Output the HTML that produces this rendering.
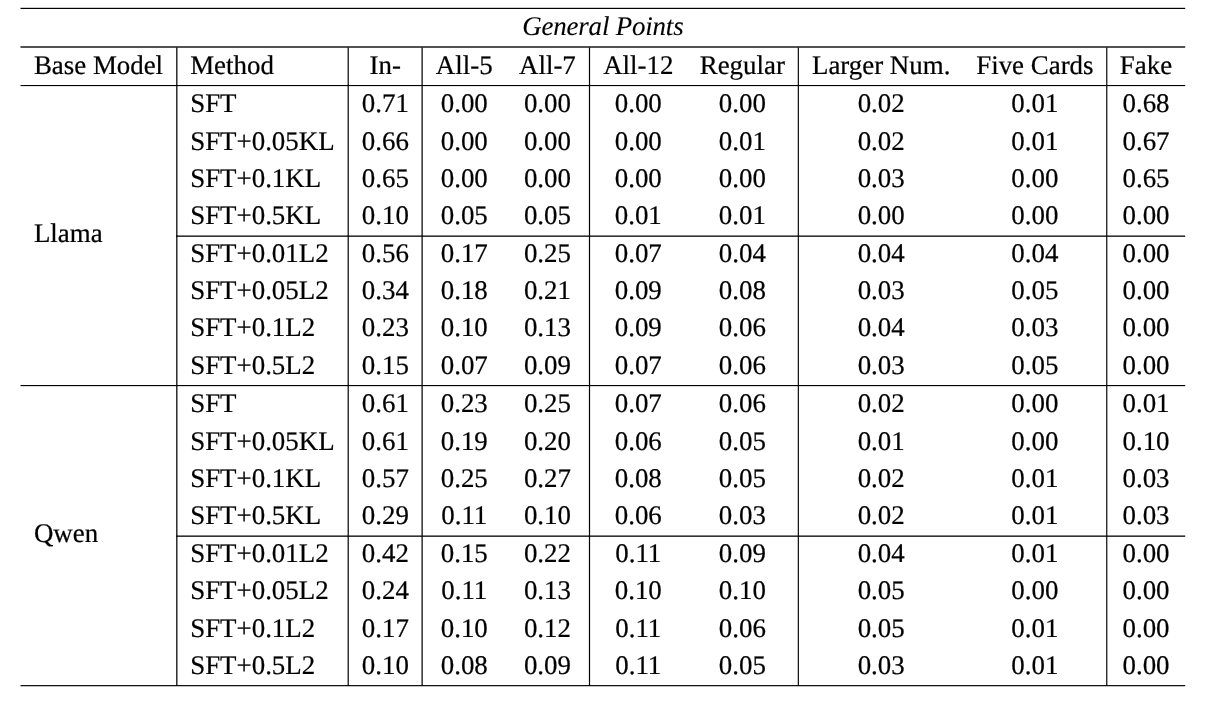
<!DOCTYPE html>
<html lang="en">
<head>
<meta charset="utf-8">
<title>General Points</title>
<style>
html,body{margin:0;padding:0;background:#fff;}
body{width:1209px;height:711px;position:relative;overflow:hidden;font-family:"Liberation Serif","Times New Roman",Times,serif;font-size:26.9px;color:#000;}
#rules{position:absolute;left:0;top:0;}
.t{position:absolute;white-space:nowrap;line-height:40px;height:40px;margin:0;padding:0;-webkit-text-stroke:0.22px #000;text-rendering:geometricPrecision;}
.c{text-align:center;width:200px;margin-left:-100px;}
.i{font-style:italic;letter-spacing:-0.17px;-webkit-text-stroke-width:0.1px;}
</style>
</head>
<body>
<svg id="rules" width="1209" height="711" viewBox="0 0 1209 711">
<g fill="#000">
<rect x="20.5" y="7" width="1164.7" height="1" fill-opacity="0.2"/>
<rect x="20.5" y="8" width="1164.7" height="1" fill-opacity="1.0"/>
<rect x="20.5" y="46" width="1164.7" height="1" fill-opacity="0.68"/>
<rect x="20.5" y="47" width="1164.7" height="1" fill-opacity="0.68"/>
<rect x="20.5" y="85" width="1164.7" height="1" fill-opacity="1.0"/>
<rect x="20.5" y="86" width="1164.7" height="1" fill-opacity="0.1"/>
<rect x="176" y="235" width="1009.2" height="1" fill-opacity="0.5"/>
<rect x="176" y="236" width="1009.2" height="1" fill-opacity="0.8"/>
<rect x="20.5" y="385" width="1164.7" height="1" fill-opacity="1.0"/>
<rect x="20.5" y="386" width="1164.7" height="1" fill-opacity="0.15"/>
<rect x="176" y="535" width="1009.2" height="1" fill-opacity="0.5"/>
<rect x="176" y="536" width="1009.2" height="1" fill-opacity="0.8"/>
<rect x="20.5" y="685" width="1164.7" height="1" fill-opacity="0.93"/>
<rect x="20.5" y="686" width="1164.7" height="1" fill-opacity="0.25"/>
<rect x="176" y="47.5" width="1" height="638.5" fill-opacity="0.8"/>
<rect x="177" y="47.5" width="1" height="638.5" fill-opacity="0.45"/>
<rect x="347" y="47.5" width="1" height="638.5" fill-opacity="0.4"/>
<rect x="348" y="47.5" width="1" height="638.5" fill-opacity="0.8"/>
<rect x="421" y="47.5" width="1" height="638.5" fill-opacity="0.5"/>
<rect x="422" y="47.5" width="1" height="638.5" fill-opacity="0.72"/>
<rect x="588" y="47.5" width="1" height="638.5" fill-opacity="0.1"/>
<rect x="589" y="47.5" width="1" height="638.5" fill-opacity="1.0"/>
<rect x="590" y="47.5" width="1" height="638.5" fill-opacity="0.1"/>
<rect x="797" y="47.5" width="1" height="638.5" fill-opacity="0.25"/>
<rect x="798" y="47.5" width="1" height="638.5" fill-opacity="0.9"/>
<rect x="1106" y="47.5" width="1" height="638.5" fill-opacity="0.82"/>
<rect x="1107" y="47.5" width="1" height="638.5" fill-opacity="0.35"/>
</g>
</svg>
<div class="t c i" style="left:602.85px;top:6.00px">General Points</div>
<div class="t" style="left:33.90px;top:45.00px">Base Model</div>
<div class="t" style="left:190.20px;top:45.00px">Method</div>
<div class="t c" style="left:385.30px;top:45.00px">In-</div>
<div class="t c" style="left:464.25px;top:45.00px">All-5</div>
<div class="t c" style="left:547.45px;top:45.00px">All-7</div>
<div class="t c" style="left:638.27px;top:45.00px">All-12</div>
<div class="t c" style="left:742.30px;top:45.00px">Regular</div>
<div class="t c" style="left:881.20px;top:45.00px">Larger Num.</div>
<div class="t c" style="left:1034.90px;top:45.00px">Five Cards</div>
<div class="t c" style="left:1146.00px;top:45.00px">Fake</div>
<div class="t" style="left:33.90px;top:213.00px">Llama</div>
<div class="t" style="left:33.90px;top:513.00px">Qwen</div>
<div class="t" style="left:190.20px;top:83.00px">SFT</div>
<div class="t c" style="left:385.30px;top:83.00px">0.71</div>
<div class="t c" style="left:464.25px;top:83.00px">0.00</div>
<div class="t c" style="left:547.45px;top:83.00px">0.00</div>
<div class="t c" style="left:638.27px;top:83.00px">0.00</div>
<div class="t c" style="left:742.30px;top:83.00px">0.00</div>
<div class="t c" style="left:881.20px;top:83.00px">0.02</div>
<div class="t c" style="left:1034.90px;top:83.00px">0.01</div>
<div class="t c" style="left:1146.00px;top:83.00px">0.68</div>
<div class="t" style="left:190.20px;top:121.00px">SFT+0.05KL</div>
<div class="t c" style="left:385.30px;top:121.00px">0.66</div>
<div class="t c" style="left:464.25px;top:121.00px">0.00</div>
<div class="t c" style="left:547.45px;top:121.00px">0.00</div>
<div class="t c" style="left:638.27px;top:121.00px">0.00</div>
<div class="t c" style="left:742.30px;top:121.00px">0.01</div>
<div class="t c" style="left:881.20px;top:121.00px">0.02</div>
<div class="t c" style="left:1034.90px;top:121.00px">0.01</div>
<div class="t c" style="left:1146.00px;top:121.00px">0.67</div>
<div class="t" style="left:190.20px;top:158.00px">SFT+0.1KL</div>
<div class="t c" style="left:385.30px;top:158.00px">0.65</div>
<div class="t c" style="left:464.25px;top:158.00px">0.00</div>
<div class="t c" style="left:547.45px;top:158.00px">0.00</div>
<div class="t c" style="left:638.27px;top:158.00px">0.00</div>
<div class="t c" style="left:742.30px;top:158.00px">0.00</div>
<div class="t c" style="left:881.20px;top:158.00px">0.03</div>
<div class="t c" style="left:1034.90px;top:158.00px">0.00</div>
<div class="t c" style="left:1146.00px;top:158.00px">0.65</div>
<div class="t" style="left:190.20px;top:195.00px">SFT+0.5KL</div>
<div class="t c" style="left:385.30px;top:195.00px">0.10</div>
<div class="t c" style="left:464.25px;top:195.00px">0.05</div>
<div class="t c" style="left:547.45px;top:195.00px">0.05</div>
<div class="t c" style="left:638.27px;top:195.00px">0.01</div>
<div class="t c" style="left:742.30px;top:195.00px">0.01</div>
<div class="t c" style="left:881.20px;top:195.00px">0.00</div>
<div class="t c" style="left:1034.90px;top:195.00px">0.00</div>
<div class="t c" style="left:1146.00px;top:195.00px">0.00</div>
<div class="t" style="left:190.20px;top:233.00px">SFT+0.01L2</div>
<div class="t c" style="left:385.30px;top:233.00px">0.56</div>
<div class="t c" style="left:464.25px;top:233.00px">0.17</div>
<div class="t c" style="left:547.45px;top:233.00px">0.25</div>
<div class="t c" style="left:638.27px;top:233.00px">0.07</div>
<div class="t c" style="left:742.30px;top:233.00px">0.04</div>
<div class="t c" style="left:881.20px;top:233.00px">0.04</div>
<div class="t c" style="left:1034.90px;top:233.00px">0.04</div>
<div class="t c" style="left:1146.00px;top:233.00px">0.00</div>
<div class="t" style="left:190.20px;top:270.00px">SFT+0.05L2</div>
<div class="t c" style="left:385.30px;top:270.00px">0.34</div>
<div class="t c" style="left:464.25px;top:270.00px">0.18</div>
<div class="t c" style="left:547.45px;top:270.00px">0.21</div>
<div class="t c" style="left:638.27px;top:270.00px">0.09</div>
<div class="t c" style="left:742.30px;top:270.00px">0.08</div>
<div class="t c" style="left:881.20px;top:270.00px">0.03</div>
<div class="t c" style="left:1034.90px;top:270.00px">0.05</div>
<div class="t c" style="left:1146.00px;top:270.00px">0.00</div>
<div class="t" style="left:190.20px;top:307.00px">SFT+0.1L2</div>
<div class="t c" style="left:385.30px;top:307.00px">0.23</div>
<div class="t c" style="left:464.25px;top:307.00px">0.10</div>
<div class="t c" style="left:547.45px;top:307.00px">0.13</div>
<div class="t c" style="left:638.27px;top:307.00px">0.09</div>
<div class="t c" style="left:742.30px;top:307.00px">0.06</div>
<div class="t c" style="left:881.20px;top:307.00px">0.04</div>
<div class="t c" style="left:1034.90px;top:307.00px">0.03</div>
<div class="t c" style="left:1146.00px;top:307.00px">0.00</div>
<div class="t" style="left:190.20px;top:345.00px">SFT+0.5L2</div>
<div class="t c" style="left:385.30px;top:345.00px">0.15</div>
<div class="t c" style="left:464.25px;top:345.00px">0.07</div>
<div class="t c" style="left:547.45px;top:345.00px">0.09</div>
<div class="t c" style="left:638.27px;top:345.00px">0.07</div>
<div class="t c" style="left:742.30px;top:345.00px">0.06</div>
<div class="t c" style="left:881.20px;top:345.00px">0.03</div>
<div class="t c" style="left:1034.90px;top:345.00px">0.05</div>
<div class="t c" style="left:1146.00px;top:345.00px">0.00</div>
<div class="t" style="left:190.20px;top:383.00px">SFT</div>
<div class="t c" style="left:385.30px;top:383.00px">0.61</div>
<div class="t c" style="left:464.25px;top:383.00px">0.23</div>
<div class="t c" style="left:547.45px;top:383.00px">0.25</div>
<div class="t c" style="left:638.27px;top:383.00px">0.07</div>
<div class="t c" style="left:742.30px;top:383.00px">0.06</div>
<div class="t c" style="left:881.20px;top:383.00px">0.02</div>
<div class="t c" style="left:1034.90px;top:383.00px">0.00</div>
<div class="t c" style="left:1146.00px;top:383.00px">0.01</div>
<div class="t" style="left:190.20px;top:421.00px">SFT+0.05KL</div>
<div class="t c" style="left:385.30px;top:421.00px">0.61</div>
<div class="t c" style="left:464.25px;top:421.00px">0.19</div>
<div class="t c" style="left:547.45px;top:421.00px">0.20</div>
<div class="t c" style="left:638.27px;top:421.00px">0.06</div>
<div class="t c" style="left:742.30px;top:421.00px">0.05</div>
<div class="t c" style="left:881.20px;top:421.00px">0.01</div>
<div class="t c" style="left:1034.90px;top:421.00px">0.00</div>
<div class="t c" style="left:1146.00px;top:421.00px">0.10</div>
<div class="t" style="left:190.20px;top:458.00px">SFT+0.1KL</div>
<div class="t c" style="left:385.30px;top:458.00px">0.57</div>
<div class="t c" style="left:464.25px;top:458.00px">0.25</div>
<div class="t c" style="left:547.45px;top:458.00px">0.27</div>
<div class="t c" style="left:638.27px;top:458.00px">0.08</div>
<div class="t c" style="left:742.30px;top:458.00px">0.05</div>
<div class="t c" style="left:881.20px;top:458.00px">0.02</div>
<div class="t c" style="left:1034.90px;top:458.00px">0.01</div>
<div class="t c" style="left:1146.00px;top:458.00px">0.03</div>
<div class="t" style="left:190.20px;top:495.00px">SFT+0.5KL</div>
<div class="t c" style="left:385.30px;top:495.00px">0.29</div>
<div class="t c" style="left:464.25px;top:495.00px">0.11</div>
<div class="t c" style="left:547.45px;top:495.00px">0.10</div>
<div class="t c" style="left:638.27px;top:495.00px">0.06</div>
<div class="t c" style="left:742.30px;top:495.00px">0.03</div>
<div class="t c" style="left:881.20px;top:495.00px">0.02</div>
<div class="t c" style="left:1034.90px;top:495.00px">0.01</div>
<div class="t c" style="left:1146.00px;top:495.00px">0.03</div>
<div class="t" style="left:190.20px;top:533.00px">SFT+0.01L2</div>
<div class="t c" style="left:385.30px;top:533.00px">0.42</div>
<div class="t c" style="left:464.25px;top:533.00px">0.15</div>
<div class="t c" style="left:547.45px;top:533.00px">0.22</div>
<div class="t c" style="left:638.27px;top:533.00px">0.11</div>
<div class="t c" style="left:742.30px;top:533.00px">0.09</div>
<div class="t c" style="left:881.20px;top:533.00px">0.04</div>
<div class="t c" style="left:1034.90px;top:533.00px">0.01</div>
<div class="t c" style="left:1146.00px;top:533.00px">0.00</div>
<div class="t" style="left:190.20px;top:570.00px">SFT+0.05L2</div>
<div class="t c" style="left:385.30px;top:570.00px">0.24</div>
<div class="t c" style="left:464.25px;top:570.00px">0.11</div>
<div class="t c" style="left:547.45px;top:570.00px">0.13</div>
<div class="t c" style="left:638.27px;top:570.00px">0.10</div>
<div class="t c" style="left:742.30px;top:570.00px">0.10</div>
<div class="t c" style="left:881.20px;top:570.00px">0.05</div>
<div class="t c" style="left:1034.90px;top:570.00px">0.00</div>
<div class="t c" style="left:1146.00px;top:570.00px">0.00</div>
<div class="t" style="left:190.20px;top:608.00px">SFT+0.1L2</div>
<div class="t c" style="left:385.30px;top:608.00px">0.17</div>
<div class="t c" style="left:464.25px;top:608.00px">0.10</div>
<div class="t c" style="left:547.45px;top:608.00px">0.12</div>
<div class="t c" style="left:638.27px;top:608.00px">0.11</div>
<div class="t c" style="left:742.30px;top:608.00px">0.06</div>
<div class="t c" style="left:881.20px;top:608.00px">0.05</div>
<div class="t c" style="left:1034.90px;top:608.00px">0.01</div>
<div class="t c" style="left:1146.00px;top:608.00px">0.00</div>
<div class="t" style="left:190.20px;top:645.00px">SFT+0.5L2</div>
<div class="t c" style="left:385.30px;top:645.00px">0.10</div>
<div class="t c" style="left:464.25px;top:645.00px">0.08</div>
<div class="t c" style="left:547.45px;top:645.00px">0.09</div>
<div class="t c" style="left:638.27px;top:645.00px">0.11</div>
<div class="t c" style="left:742.30px;top:645.00px">0.05</div>
<div class="t c" style="left:881.20px;top:645.00px">0.03</div>
<div class="t c" style="left:1034.90px;top:645.00px">0.01</div>
<div class="t c" style="left:1146.00px;top:645.00px">0.00</div>
</body>
</html>
